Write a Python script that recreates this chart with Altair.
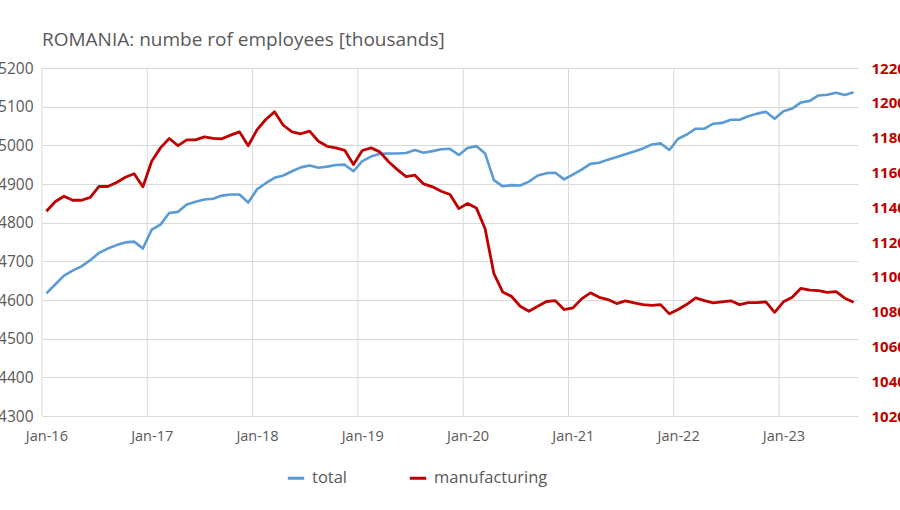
import altair as alt
import pandas as pd

# Monthly number of employees in Romania, thousands (Jan-16 .. Sep-23)
total = [
    4617, 4640, 4663, 4676, 4687, 4703, 4722, 4733, 4742, 4749, 4751, 4733,
    4782, 4795, 4825, 4828, 4847, 4854, 4860, 4862, 4870, 4873, 4873, 4852,
    4886, 4902, 4916, 4922, 4933, 4943, 4948, 4942, 4945, 4949, 4950, 4933,
    4959, 4971, 4978, 4979, 4979, 4980, 4988, 4981, 4985, 4990, 4991, 4975,
    4993, 4998, 4979, 4910, 4894, 4897, 4896, 4906, 4922, 4928, 4929, 4912,
    4924, 4937, 4952, 4955, 4963, 4970, 4977, 4984, 4992, 5002, 5005, 4988,
    5017, 5028, 5043, 5043, 5056, 5058, 5066, 5066, 5075, 5082, 5087, 5069,
    5088, 5095, 5111, 5115, 5129, 5131, 5136, 5130, 5137,
]
manufacturing = [
    1137.7, 1143.1, 1146.3, 1144.0, 1144.0, 1145.6, 1151.9, 1151.9, 1154.2, 1157.2, 1159.2, 1151.7,
    1166.4, 1174.1, 1179.5, 1175.4, 1178.7, 1178.7, 1180.4, 1179.5, 1179.3, 1181.4, 1183.3, 1175.3,
    1184.4, 1190.4, 1194.8, 1187.1, 1183.3, 1182.2, 1183.7, 1177.9, 1175.0, 1174.1, 1172.7, 1164.5,
    1172.6, 1174.1, 1171.8, 1166.1, 1161.6, 1157.6, 1158.4, 1153.4, 1151.7, 1149.2, 1147.3, 1139.2,
    1142.1, 1139.6, 1127.6, 1101.9, 1091.3, 1088.8, 1083.1, 1080.2, 1083.1, 1085.8, 1086.3, 1081.2,
    1082.1, 1087.3, 1090.8, 1088.2, 1086.9, 1084.6, 1086.2, 1085.0, 1084.0, 1083.6, 1084.0, 1078.7,
    1081.2, 1084.2, 1087.9, 1086.3, 1085.0, 1085.6, 1086.2, 1084.0, 1085.2, 1085.2, 1085.6, 1079.6,
    1085.6, 1088.2, 1093.4, 1092.3, 1092.1, 1091.1, 1091.5, 1087.7, 1085.4,
]
year_labels = ["Jan-16", "Jan-17", "Jan-18", "Jan-19", "Jan-20", "Jan-21", "Jan-22", "Jan-23"]
left_ticks = list(range(4300, 5201, 100))
right_ticks = list(range(1020, 1221, 20))

BLUE = "#5B9BD5"
RED = "#C00000"
GRID = "#D9D9D9"
TEXT = "#595959"
FONT = "Open Sans"

n = len(total)
df = pd.DataFrame({"i": list(range(n)), "total": total, "manufacturing": manufacturing})
# year boundaries (between December and January)
grid_df = pd.DataFrame({"g": [12 * k - 0.5 for k in range(len(year_labels))]})

label_expr = "[" + ",".join(f"'{s}'" for s in year_labels) + "][round(datum.value / 12)]"

x_scale = alt.Scale(domain=[-0.5, n - 0.5], nice=False, zero=False)
x_axis = alt.Axis(
    values=[12 * k for k in range(len(year_labels))],
    labelExpr=label_expr,
    title=None, grid=False, ticks=False, domain=False,
    labelFont=FONT, labelFontSize=14.5, labelColor=TEXT, labelPadding=13,
)
color_scale = alt.Scale(domain=["total", "manufacturing"], range=[BLUE, RED])
legend = alt.Legend(
    title=None, orient="none", legendX=244, legendY=400, direction="horizontal",
    symbolType="stroke", symbolStrokeWidth=3, symbolSize=270,
    labelFont=FONT, labelFontSize=16.5, labelColor=TEXT, labelOffset=6,
    columnPadding=55,
)

vgrid = alt.Chart(grid_df).mark_rule(color=GRID, strokeWidth=1).encode(
    x=alt.X("g:Q", scale=x_scale, axis=x_axis)
)

total_line = alt.Chart(df).transform_calculate(series="'total'").mark_line(
    strokeWidth=2.6, strokeJoin="round"
).encode(
    x=alt.X("i:Q", scale=x_scale, axis=x_axis),
    y=alt.Y(
        "total:Q",
        scale=alt.Scale(domain=[4300, 5200], nice=False, zero=False),
        axis=alt.Axis(
            orient="left", values=left_ticks, format="d", title=None, grid=True,
            gridColor=GRID, ticks=False, domain=False, labelFont=FONT,
            labelFontSize=15.5, labelColor=TEXT, labelPadding=9,
        ),
    ),
    color=alt.Color("series:N", scale=color_scale, legend=legend),
)

manuf_line = alt.Chart(df).transform_calculate(series="'manufacturing'").mark_line(
    strokeWidth=2.8, strokeJoin="round"
).encode(
    x=alt.X("i:Q", scale=x_scale, axis=x_axis),
    y=alt.Y(
        "manufacturing:Q",
        scale=alt.Scale(domain=[1020, 1220], nice=False, zero=False),
        axis=alt.Axis(
            orient="right", values=right_ticks, format="d", title=None, grid=False,
            ticks=False, domain=False, labelFont=FONT, labelFontSize=15,
            labelFontWeight="bold", labelColor=RED, labelPadding=13,
        ),
    ),
    color=alt.Color("series:N", scale=color_scale, legend=legend),
)

chart = (
    alt.layer(vgrid, total_line, manuf_line)
    .resolve_scale(y="independent")
    .properties(
        width=816,
        height=348,
        autosize=alt.AutoSizeParams(type="none"),
        padding={"left": 42, "top": 68, "right": 42, "bottom": 94},
        background="white",
        title=alt.Title(
            "ROMANIA: numbe rof employees [thousands]",
            anchor="start", frame="group", font=FONT, fontSize=19,
            fontWeight="normal", color=TEXT, offset=11,
        ),
    )
    .configure_view(stroke=None)
)

chart.save("out.html", embed_options={"renderer": "svg", "actions": False})
